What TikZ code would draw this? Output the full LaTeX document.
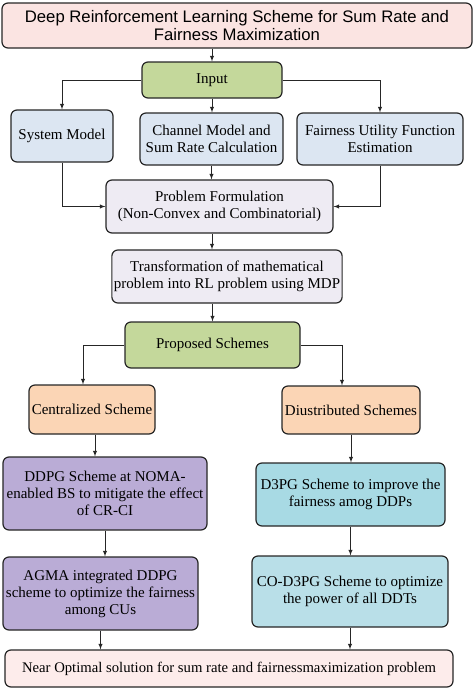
\documentclass[tikz,border=0pt]{standalone}
\usepackage{fontspec}
\setmainfont{Liberation Serif}
\newfontfamily\headfont{Liberation Sans}
\usepackage{xcolor}
\usetikzlibrary{arrows}
\usetikzlibrary{arrows.meta}
\usetikzlibrary{positioning}
\usetikzlibrary{calc}

\definecolor{headpink}{HTML}{FBE4E2}
\definecolor{ingreen}{HTML}{C4D89B}
\definecolor{modblue}{HTML}{DCE6F2}
\definecolor{problav}{HTML}{EEEBF3}
\definecolor{schorange}{HTML}{FBD5B5}
\definecolor{cenpurple}{HTML}{BAACD6}
\definecolor{discyan}{HTML}{A8DAE4}
\definecolor{discyanlt}{HTML}{B9DFE8}
\definecolor{endpink}{HTML}{FDECEB}

\tikzset{
  box/.style={rectangle, rounded corners=6pt, draw=black!85, line width=1.2pt,
    align=center, inner sep=2pt, font=\fontsize{15}{17}\selectfont},
  link/.style={->, line width=0.9pt, draw=black!85}
}

\begin{document}
\begin{tikzpicture}[>=latex, x=1pt, y=1pt]
			\useasboundingbox (0, 0) rectangle (474, -688);
			\node[box, fill=headpink, minimum width=470pt, minimum height=45pt, font=\headfont\fontsize{16.7}{18}\selectfont] (title) at (237, -25.5) {Deep Reinforcement Learning Scheme for Sum Rate and\\Fairness Maximization};
			\node[box, fill=ingreen, minimum width=140pt, minimum height=36pt] (input) at (212, -80) {Input};
			\node[box, fill=modblue, minimum width=102pt, minimum height=52pt] (sys) at (62, -136) {System Model};
			\node[box, fill=modblue, minimum width=143pt, minimum height=52pt] (chan) at (211.5, -139) {Channel Model and\\Sum Rate Calculation};
			\node[box, fill=modblue, minimum width=166pt, minimum height=52pt] (fair) at (380, -139) {Fairness Utility Function\\Estimation};
			\node[box, fill=problav, minimum width=227pt, minimum height=53pt] (prob) at (219.5, -206.5) {Problem Formulation\\(Non-Convex and Combinatorial)};
			\node[box, fill=problav, minimum width=228pt, minimum height=53pt] (trans) at (227, -276.5) {Transformation of mathematical\\problem into RL problem using MDP};
			\node[box, fill=ingreen, minimum width=175pt, minimum height=46pt] (prop) at (212.5, -345) {Proposed Schemes};
			\node[box, fill=schorange, minimum width=126pt, minimum height=49pt] (cent) at (92, -409.5) {Centralized Scheme};
			\node[box, fill=schorange, minimum width=138pt, minimum height=48pt] (dist) at (351, -410) {Diustributed Schemes};
			\node[box, fill=cenpurple, minimum width=204pt, minimum height=73pt] (ddpg) at (105, -493.5) {DDPG Scheme at NOMA-\\enabled BS to mitigate the effect\\of CR-CI};
			\node[box, fill=discyan, minimum width=189pt, minimum height=63pt] (d3pg) at (350.5, -494.5) {D3PG Scheme to improve the\\fairness amog DDPs};
			\node[box, fill=cenpurple, minimum width=195pt, minimum height=73pt] (agma) at (100.5, -593.5) {AGMA integrated DDPG\\scheme to optimize the fairness\\among CUs};
			\node[box, fill=discyanlt, minimum width=196pt, minimum height=71pt] (cod3) at (350, -591.5) {CO-D3PG Scheme to optimize\\the power of all DDTs};
			\node[box, fill=endpink, minimum width=448pt, minimum height=37pt, font=\fontsize{14.7}{17}\selectfont] (final) at (229, -668.5) {Near Optimal solution for sum rate and fairnessmaximization problem};
			% top part
			\draw[link] (input.north |- title.south) -- (input.north);
			\draw[link] (input.west) -| (sys.north);
			\draw[link] (input.east) -| (fair.north);
			\draw[link] (input.south) -- (input.south |- chan.north);
			\draw[link] (sys.south) |- (prob.west);
			\draw[link] (fair.south) |- (prob.east);
			\draw[link] (chan.south) -- (chan.south |- prob.north);
			\draw[link] (input.south |- prob.south) -- (input.south |- trans.north);
			\draw[link] (prop.north |- trans.south) -- (prop.north);
			% two branches
			\draw[link] (prop.west) -| ([xshift=-9pt]cent.north);
			\draw[link] (prop.east) -| ([xshift=-9pt]dist.north);
			\draw[link] ([xshift=3pt]cent.south) -- ([xshift=3pt]cent.south |- ddpg.north);
			\draw[link] (dist.south) -- (dist.south |- d3pg.north);
			\draw[link] (ddpg.south) -- (ddpg.south |- agma.north);
			\draw[link] (d3pg.south) -- (d3pg.south |- cod3.north);
			\draw[link] (agma.south) -- (agma.south |- final.north);
			\draw[link] (cod3.south) -- (cod3.south |- final.north);
		\end{tikzpicture}
\end{document}
